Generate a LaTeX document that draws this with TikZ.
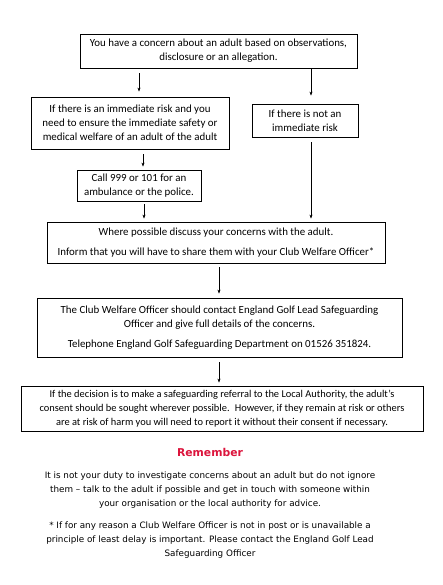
\documentclass[tikz,border=0pt]{standalone}
\usepackage{fontspec}
\setmainfont{Carlito}
\newfontfamily\verd{DejaVu Sans}
\usetikzlibrary{arrows.meta}
\definecolor{remred}{RGB}{220,20,60}
\begin{document}
\begin{tikzpicture}[x=1pt,y=-1pt,
  box/.style={draw, line width=0.8pt, inner sep=0pt, align=center, font=\fontsize{10.9}{14}\selectfont},
  arr/.style={-{Stealth[length=4pt,width=3pt]}, line width=0.6pt},
  note/.style={align=center, inner sep=0pt, font=\verd\fontsize{8.8}{14}\selectfont}
]
\useasboundingbox[fill=white] (0,0) rectangle (442,585);

\node[box, minimum width=277pt, minimum height=34pt] (b1) at (218.5,51)
  {You have a concern about an adult based on observations,\\disclosure or an allegation.};
\node[box, minimum width=198pt, minimum height=52pt] (b2) at (130,123)
  {If there is an immediate risk and you\\need to ensure the immediate safety or\\medical welfare of an adult of the adult};
\node[box, minimum width=106pt, minimum height=33pt] (b3) at (305,120.5)
  {If there is not an\\immediate risk};
\node[box, minimum width=124pt, minimum height=31pt] (b4) at (139,185.5)
  {Call 999 or 101 for an\\ambulance or the police.};
\node[box, minimum width=338pt, minimum height=41pt] (b5) at (216,242.5)
  {Where possible discuss your concerns with the adult.\\[6pt]Inform that you will have to share them with your Club Welfare Officer*};
\node[box, minimum width=365pt, minimum height=59pt] (b6) at (219.5,327.5)
  {The Club Welfare Officer should contact England Golf Lead Safeguarding\\Officer and give full details of the concerns.\\[6pt]Telephone England Golf Safeguarding Department on 01526 351824.};
\node[box, minimum width=402pt, minimum height=45pt, font=\fontsize{10.4}{14}\selectfont] (b7) at (222,408.5)
  {If the decision is to make a safeguarding referral to the Local Authority, the adult’s\\consent should be sought wherever possible.\hspace{0.5em}However, if they remain at risk or others\\are at risk of harm you will need to report it without their consent if necessary.};

\node[font=\verd\bfseries\fontsize{10.8}{12}\selectfont, text=remred, inner sep=0pt] (rem) at (210,452) {Remember};
\node[note] (n1) at (210,490)
  {It is not your duty to investigate concerns about an adult but do not ignore\\them – talk to the adult if possible and get in touch with someone within\\your organisation or the local authority for advice.};
\node[note] (n2) at (210,540)
  {* If for any reason a Club Welfare Officer is not in post or is unavailable a\\principle of least delay is important. Please contact the England Golf Lead\\Safeguarding Officer};

\coordinate (xa) at (139,0);
\coordinate (xb) at (311,0);
\coordinate (xc) at (143,0);
\coordinate (xd) at (144,0);
\coordinate (xe) at (219,0);

\draw[arr, shorten <=5pt, shorten >=5pt] (b1.south -| xa) -- (b2.north -| xa);
\draw[arr, shorten >=8pt] (b1.south -| xb) -- (b3.north -| xb);
\draw[arr, shorten <=5pt, shorten >=3pt] (b2.south -| xc) -- (b4.north -| xc);
\draw[arr, shorten <=5pt, shorten >=3pt] (b3.south -| xb) -- (b5.north -| xb);
\draw[arr, shorten <=3pt, shorten >=3pt] (b4.south -| xd) -- (b5.north -| xd);
\draw[arr, shorten <=4pt, shorten >=4pt] (b5.south -| xe) -- (b6.north -| xe);
\draw[arr, shorten <=5pt, shorten >=3pt] (b6.south -| xe) -- (b7.north -| xe);
\end{tikzpicture}
\end{document}
